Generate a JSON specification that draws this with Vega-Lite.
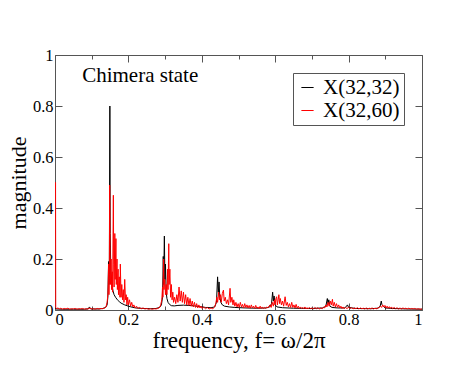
{
 "$schema": "https://vega.github.io/schema/vega-lite/v6.json",
 "width": 367, "height": 255,
 "autosize": {"type": "none"},
 "padding": {"left": 55, "top": 55, "right": 52, "bottom": 56},
 "background": "white",
 "config": {
  "font": "Liberation Serif",
  "view": {"stroke": "#555", "strokeWidth": 1},
  "axis": {"grid": false, "domain": false, "tickColor": "#555", "tickWidth": 1, "labelFont": "Liberation Serif", "labelFontSize": 16.5, "labelColor": "#000", "titleFont": "Liberation Serif", "titleFontWeight": "normal", "titleColor": "#000"},
  "legend": {"labelFont": "Liberation Serif", "labelFontSize": 21, "labelColor": "#000"}
 },
 "datasets": {
  "black": [
   {"f":0,"m":0.01},{"f":0.003,"m":0.004},{"f":0.02,"m":0.003},{"f":0.05,"m":0.003},{"f":0.08,"m":0.003},{"f":0.09,"m":0.004},{"f":0.094,"m":0.012},{"f":0.097,"m":0.004},{"f":0.12,"m":0.004},{"f":0.13,"m":0.006},{"f":0.138,"m":0.01},{"f":0.142,"m":0.02},{"f":0.144,"m":0.05},{"f":0.146,"m":0.19},{"f":0.147,"m":0.1},{"f":0.148,"m":0.14},{"f":0.1495,"m":0.8},{"f":0.1505,"m":0.3},{"f":0.152,"m":0.15},{"f":0.154,"m":0.12},{"f":0.156,"m":0.09},{"f":0.158,"m":0.075},{"f":0.161,"m":0.06},{"f":0.165,"m":0.05},{"f":0.17,"m":0.04},{"f":0.175,"m":0.033},{"f":0.18,"m":0.027},{"f":0.19,"m":0.02},{"f":0.2,"m":0.015},{"f":0.21,"m":0.011},{"f":0.22,"m":0.008},{"f":0.24,"m":0.006},{"f":0.26,"m":0.005},{"f":0.275,"m":0.006},{"f":0.285,"m":0.01},{"f":0.29,"m":0.02},{"f":0.293,"m":0.05},{"f":0.295,"m":0.21},{"f":0.296,"m":0.1},{"f":0.298,"m":0.29},{"f":0.2995,"m":0.12},{"f":0.301,"m":0.18},{"f":0.303,"m":0.07},{"f":0.305,"m":0.045},{"f":0.308,"m":0.03},{"f":0.312,"m":0.022},{"f":0.317,"m":0.017},{"f":0.325,"m":0.016},{"f":0.335,"m":0.018},{"f":0.35,"m":0.019},{"f":0.365,"m":0.018},{"f":0.38,"m":0.016},{"f":0.395,"m":0.013},{"f":0.41,"m":0.01},{"f":0.425,"m":0.009},{"f":0.435,"m":0.012},{"f":0.44,"m":0.03},{"f":0.443,"m":0.13},{"f":0.445,"m":0.07},{"f":0.447,"m":0.11},{"f":0.449,"m":0.05},{"f":0.452,"m":0.03},{"f":0.456,"m":0.02},{"f":0.462,"m":0.015},{"f":0.475,"m":0.012},{"f":0.49,"m":0.01},{"f":0.52,"m":0.008},{"f":0.55,"m":0.007},{"f":0.575,"m":0.008},{"f":0.585,"m":0.012},{"f":0.59,"m":0.025},{"f":0.593,"m":0.07},{"f":0.595,"m":0.035},{"f":0.597,"m":0.055},{"f":0.6,"m":0.02},{"f":0.605,"m":0.012},{"f":0.62,"m":0.009},{"f":0.65,"m":0.007},{"f":0.7,"m":0.006},{"f":0.73,"m":0.008},{"f":0.738,"m":0.015},{"f":0.742,"m":0.045},{"f":0.744,"m":0.025},{"f":0.746,"m":0.04},{"f":0.749,"m":0.015},{"f":0.755,"m":0.01},{"f":0.77,"m":0.008},{"f":0.79,"m":0.008},{"f":0.797,"m":0.02},{"f":0.8,"m":0.01},{"f":0.82,"m":0.006},{"f":0.86,"m":0.005},{"f":0.88,"m":0.007},{"f":0.886,"m":0.015},{"f":0.889,"m":0.035},{"f":0.891,"m":0.02},{"f":0.894,"m":0.015},{"f":0.9,"m":0.008},{"f":0.92,"m":0.006},{"f":0.96,"m":0.004},{"f":1,"m":0.003}
  ],
  "red": [
   {"f":0,"m":0.5},{"f":0.0015,"m":0.5},{"f":0.002,"m":0.01},{"f":0.004,"m":0.005},{"f":0.008,"m":0.008},{"f":0.012,"m":0.004},{"f":0.016,"m":0.007},{"f":0.02,"m":0.003},{"f":0.025,"m":0.006},{"f":0.03,"m":0.004},{"f":0.035,"m":0.007},{"f":0.04,"m":0.003},{"f":0.045,"m":0.005},{"f":0.05,"m":0.004},{"f":0.055,"m":0.006},{"f":0.06,"m":0.003},{"f":0.065,"m":0.005},{"f":0.07,"m":0.004},{"f":0.075,"m":0.006},{"f":0.08,"m":0.003},{"f":0.085,"m":0.005},{"f":0.09,"m":0.004},{"f":0.095,"m":0.007},{"f":0.1,"m":0.004},{"f":0.105,"m":0.005},{"f":0.11,"m":0.003},{"f":0.115,"m":0.006},{"f":0.12,"m":0.004},{"f":0.125,"m":0.006},{"f":0.13,"m":0.005},{"f":0.135,"m":0.008},{"f":0.139,"m":0.012},{"f":0.142,"m":0.03},{"f":0.144,"m":0.06},{"f":0.145,"m":0.1},{"f":0.146,"m":0.18},{"f":0.147,"m":0.06},{"f":0.148,"m":0.12},{"f":0.149,"m":0.49},{"f":0.15,"m":0.25},{"f":0.151,"m":0.1},{"f":0.153,"m":0.2},{"f":0.154,"m":0.08},{"f":0.156,"m":0.15},{"f":0.157,"m":0.07},{"f":0.159,"m":0.45},{"f":0.16,"m":0.18},{"f":0.161,"m":0.09},{"f":0.163,"m":0.3},{"f":0.164,"m":0.12},{"f":0.166,"m":0.28},{"f":0.167,"m":0.1},{"f":0.169,"m":0.2},{"f":0.17,"m":0.08},{"f":0.172,"m":0.16},{"f":0.173,"m":0.06},{"f":0.175,"m":0.13},{"f":0.177,"m":0.05},{"f":0.178,"m":0.18},{"f":0.18,"m":0.05},{"f":0.182,"m":0.1},{"f":0.184,"m":0.04},{"f":0.186,"m":0.08},{"f":0.188,"m":0.03},{"f":0.19,"m":0.12},{"f":0.192,"m":0.04},{"f":0.194,"m":0.06},{"f":0.196,"m":0.02},{"f":0.198,"m":0.05},{"f":0.2,"m":0.02},{"f":0.203,"m":0.04},{"f":0.206,"m":0.015},{"f":0.209,"m":0.03},{"f":0.212,"m":0.012},{"f":0.215,"m":0.02},{"f":0.218,"m":0.008},{"f":0.222,"m":0.015},{"f":0.226,"m":0.006},{"f":0.23,"m":0.01},{"f":0.235,"m":0.005},{"f":0.24,"m":0.008},{"f":0.245,"m":0.004},{"f":0.25,"m":0.006},{"f":0.255,"m":0.003},{"f":0.26,"m":0.005},{"f":0.265,"m":0.003},{"f":0.27,"m":0.005},{"f":0.275,"m":0.004},{"f":0.28,"m":0.006},{"f":0.285,"m":0.01},{"f":0.288,"m":0.02},{"f":0.291,"m":0.04},{"f":0.293,"m":0.09},{"f":0.294,"m":0.05},{"f":0.296,"m":0.2},{"f":0.297,"m":0.08},{"f":0.299,"m":0.12},{"f":0.301,"m":0.06},{"f":0.303,"m":0.1},{"f":0.305,"m":0.06},{"f":0.307,"m":0.16},{"f":0.308,"m":0.08},{"f":0.31,"m":0.26},{"f":0.311,"m":0.1},{"f":0.313,"m":0.16},{"f":0.315,"m":0.05},{"f":0.317,"m":0.1},{"f":0.319,"m":0.04},{"f":0.321,"m":0.07},{"f":0.323,"m":0.03},{"f":0.326,"m":0.05},{"f":0.329,"m":0.025},{"f":0.332,"m":0.06},{"f":0.335,"m":0.03},{"f":0.338,"m":0.09},{"f":0.341,"m":0.035},{"f":0.344,"m":0.075},{"f":0.347,"m":0.03},{"f":0.35,"m":0.07},{"f":0.353,"m":0.025},{"f":0.356,"m":0.06},{"f":0.359,"m":0.02},{"f":0.362,"m":0.05},{"f":0.365,"m":0.018},{"f":0.368,"m":0.045},{"f":0.371,"m":0.015},{"f":0.374,"m":0.035},{"f":0.377,"m":0.012},{"f":0.38,"m":0.03},{"f":0.383,"m":0.01},{"f":0.386,"m":0.025},{"f":0.389,"m":0.008},{"f":0.392,"m":0.02},{"f":0.395,"m":0.008},{"f":0.398,"m":0.015},{"f":0.401,"m":0.006},{"f":0.405,"m":0.012},{"f":0.41,"m":0.005},{"f":0.415,"m":0.01},{"f":0.42,"m":0.004},{"f":0.425,"m":0.008},{"f":0.43,"m":0.005},{"f":0.435,"m":0.012},{"f":0.438,"m":0.025},{"f":0.441,"m":0.05},{"f":0.443,"m":0.03},{"f":0.446,"m":0.07},{"f":0.448,"m":0.04},{"f":0.451,"m":0.06},{"f":0.453,"m":0.03},{"f":0.456,"m":0.065},{"f":0.459,"m":0.078},{"f":0.461,"m":0.035},{"f":0.464,"m":0.05},{"f":0.467,"m":0.025},{"f":0.47,"m":0.04},{"f":0.473,"m":0.02},{"f":0.477,"m":0.085},{"f":0.479,"m":0.03},{"f":0.482,"m":0.05},{"f":0.485,"m":0.02},{"f":0.487,"m":0.04},{"f":0.49,"m":0.015},{"f":0.493,"m":0.03},{"f":0.496,"m":0.012},{"f":0.499,"m":0.025},{"f":0.502,"m":0.01},{"f":0.505,"m":0.03},{"f":0.508,"m":0.012},{"f":0.511,"m":0.022},{"f":0.514,"m":0.008},{"f":0.517,"m":0.025},{"f":0.52,"m":0.01},{"f":0.523,"m":0.02},{"f":0.526,"m":0.008},{"f":0.529,"m":0.018},{"f":0.532,"m":0.007},{"f":0.535,"m":0.02},{"f":0.538,"m":0.008},{"f":0.541,"m":0.015},{"f":0.544,"m":0.006},{"f":0.547,"m":0.018},{"f":0.55,"m":0.007},{"f":0.553,"m":0.012},{"f":0.556,"m":0.005},{"f":0.559,"m":0.015},{"f":0.562,"m":0.006},{"f":0.565,"m":0.012},{"f":0.568,"m":0.005},{"f":0.571,"m":0.01},{"f":0.574,"m":0.006},{"f":0.577,"m":0.012},{"f":0.58,"m":0.008},{"f":0.583,"m":0.015},{"f":0.586,"m":0.02},{"f":0.589,"m":0.01},{"f":0.592,"m":0.03},{"f":0.595,"m":0.015},{"f":0.598,"m":0.04},{"f":0.6,"m":0.02},{"f":0.602,"m":0.045},{"f":0.604,"m":0.052},{"f":0.606,"m":0.02},{"f":0.608,"m":0.04},{"f":0.61,"m":0.06},{"f":0.612,"m":0.025},{"f":0.614,"m":0.045},{"f":0.617,"m":0.02},{"f":0.62,"m":0.035},{"f":0.623,"m":0.015},{"f":0.627,"m":0.052},{"f":0.63,"m":0.018},{"f":0.633,"m":0.03},{"f":0.636,"m":0.012},{"f":0.639,"m":0.025},{"f":0.642,"m":0.01},{"f":0.645,"m":0.03},{"f":0.648,"m":0.01},{"f":0.651,"m":0.02},{"f":0.654,"m":0.008},{"f":0.657,"m":0.022},{"f":0.66,"m":0.007},{"f":0.663,"m":0.015},{"f":0.666,"m":0.006},{"f":0.669,"m":0.012},{"f":0.672,"m":0.005},{"f":0.675,"m":0.01},{"f":0.678,"m":0.005},{"f":0.681,"m":0.012},{"f":0.684,"m":0.004},{"f":0.687,"m":0.009},{"f":0.69,"m":0.004},{"f":0.693,"m":0.01},{"f":0.696,"m":0.005},{"f":0.7,"m":0.008},{"f":0.704,"m":0.004},{"f":0.708,"m":0.01},{"f":0.712,"m":0.005},{"f":0.716,"m":0.009},{"f":0.72,"m":0.004},{"f":0.724,"m":0.008},{"f":0.728,"m":0.005},{"f":0.732,"m":0.012},{"f":0.735,"m":0.008},{"f":0.738,"m":0.02},{"f":0.741,"m":0.012},{"f":0.744,"m":0.03},{"f":0.747,"m":0.015},{"f":0.75,"m":0.035},{"f":0.753,"m":0.02},{"f":0.756,"m":0.042},{"f":0.758,"m":0.015},{"f":0.761,"m":0.03},{"f":0.764,"m":0.012},{"f":0.767,"m":0.025},{"f":0.77,"m":0.01},{"f":0.773,"m":0.02},{"f":0.776,"m":0.008},{"f":0.779,"m":0.015},{"f":0.782,"m":0.006},{"f":0.785,"m":0.012},{"f":0.788,"m":0.005},{"f":0.792,"m":0.01},{"f":0.796,"m":0.005},{"f":0.8,"m":0.012},{"f":0.804,"m":0.005},{"f":0.808,"m":0.01},{"f":0.812,"m":0.004},{"f":0.816,"m":0.008},{"f":0.82,"m":0.005},{"f":0.824,"m":0.009},{"f":0.828,"m":0.004},{"f":0.832,"m":0.008},{"f":0.836,"m":0.005},{"f":0.84,"m":0.007},{"f":0.844,"m":0.004},{"f":0.848,"m":0.008},{"f":0.852,"m":0.004},{"f":0.856,"m":0.007},{"f":0.86,"m":0.005},{"f":0.864,"m":0.008},{"f":0.868,"m":0.004},{"f":0.872,"m":0.007},{"f":0.876,"m":0.005},{"f":0.88,"m":0.008},{"f":0.884,"m":0.01},{"f":0.887,"m":0.015},{"f":0.89,"m":0.01},{"f":0.893,"m":0.02},{"f":0.896,"m":0.012},{"f":0.899,"m":0.018},{"f":0.902,"m":0.008},{"f":0.905,"m":0.015},{"f":0.908,"m":0.007},{"f":0.911,"m":0.013},{"f":0.914,"m":0.006},{"f":0.917,"m":0.012},{"f":0.92,"m":0.005},{"f":0.924,"m":0.01},{"f":0.928,"m":0.005},{"f":0.932,"m":0.009},{"f":0.936,"m":0.004},{"f":0.94,"m":0.008},{"f":0.944,"m":0.004},{"f":0.948,"m":0.008},{"f":0.952,"m":0.005},{"f":0.956,"m":0.007},{"f":0.96,"m":0.004},{"f":0.964,"m":0.007},{"f":0.968,"m":0.004},{"f":0.972,"m":0.006},{"f":0.976,"m":0.004},{"f":0.98,"m":0.006},{"f":0.985,"m":0.003},{"f":0.99,"m":0.005},{"f":0.995,"m":0.003},{"f":1,"m":0.004}
  ]
 },
 "layer": [
  {
   "data": {"name": "black"},
   "mark": {"type": "line", "strokeWidth": 1, "clip": true},
   "encoding": {
    "x": {"field": "f", "type": "quantitative", "scale": {"domain": [0, 1]},
          "axis": {"orient": "bottom", "values": [0, 0.2, 0.4, 0.6, 0.8, 1], "format": "~g", "tickSize": -7, "labelPadding": 8, "title": "frequency, f= ω/2π", "titleFontSize": 23, "titlePadding": 2}},
    "y": {"field": "m", "type": "quantitative", "scale": {"domain": [0, 1]},
          "axis": {"orient": "left", "values": [0, 0.2, 0.4, 0.6, 0.8, 1], "format": "~g", "tickSize": -7, "labelPadding": 9, "title": "magnitude", "titleFontSize": 22, "titlePadding": 2}},
    "color": {"datum": "X(32,32)", "type": "nominal",
              "scale": {"domain": ["X(32,32)", "X(32,60)"], "range": ["#000000", "#ff0000"]},
              "legend": {"orient": "none", "legendX": 238, "legendY": 18, "title": null, "strokeColor": "#555", "fillColor": "white", "padding": 4, "symbolType": "stroke", "symbolStrokeWidth": 1, "symbolSize": 150, "rowPadding": 1, "labelOffset": 5, "labelFontSize": 21}}
   }
  },
  {
   "data": {"name": "red"},
   "mark": {"type": "line", "strokeWidth": 1, "clip": true},
   "encoding": {
    "x": {"field": "f", "type": "quantitative", "axis": null},
    "y": {"field": "m", "type": "quantitative", "axis": null},
    "color": {"datum": "X(32,60)", "type": "nominal"}
   }
  },
  {
   "data": {"values": [{"f": 0.074, "m": 0.895, "t": "Chimera state"}]},
   "mark": {"type": "text", "align": "left", "baseline": "alphabetic", "fontSize": 21, "font": "Liberation Serif", "color": "#000"},
   "encoding": {
    "x": {"field": "f", "type": "quantitative", "axis": null},
    "y": {"field": "m", "type": "quantitative", "axis": null},
    "text": {"field": "t"}
   }
  },
  {
   "data": {"values": [{"f": 0, "m": 0}]},
   "mark": {"type": "rule", "opacity": 0},
   "encoding": {
    "x": {"field": "f", "type": "quantitative", "axis": {"orient": "top", "values": [0, 0.2, 0.4, 0.6, 0.8, 1], "labels": false, "tickSize": -7, "title": null}},
    "y": {"field": "m", "type": "quantitative", "axis": {"orient": "right", "values": [0, 0.2, 0.4, 0.6, 0.8, 1], "labels": false, "tickSize": -7, "title": null}}
   }
  },
  {
   "data": {"values": [{"f": 0, "m": 0}]},
   "mark": {"type": "rule", "opacity": 0},
   "encoding": {
    "x": {"field": "f", "type": "quantitative", "axis": {"orient": "top", "values": [0.1, 0.3, 0.5, 0.7, 0.9], "labels": false, "tickSize": -4, "title": null}},
    "y": {"field": "m", "type": "quantitative", "axis": null}
   }
  },
  {
   "data": {"values": [{"f": 0, "m": 0}]},
   "mark": {"type": "rule", "opacity": 0},
   "encoding": {
    "x": {"field": "f", "type": "quantitative", "axis": {"orient": "bottom", "values": [0.1, 0.3, 0.5, 0.7, 0.9], "labels": false, "tickSize": -4, "title": null}},
    "y": {"field": "m", "type": "quantitative", "axis": null}
   }
  }
 ],
 "resolve": {"axis": {"x": "independent", "y": "independent"}}
}
